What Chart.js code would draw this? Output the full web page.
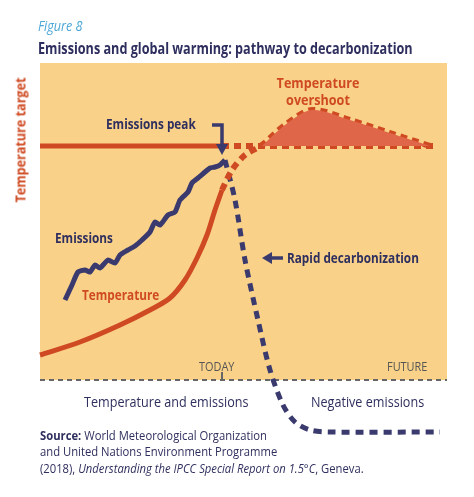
<!DOCTYPE html>
<html><head><meta charset="utf-8">
<script src="https://cdn.jsdelivr.net/npm/chart.js@4"></script>
<style>
body{margin:0;background:#fff;width:474px;height:497px;position:relative;overflow:hidden;font-family:'Open Sans',sans-serif;}
#c{position:absolute;left:0;top:0;}
.t{position:absolute;white-space:nowrap;font-weight:bold;font-size:14px;line-height:1;transform-origin:left top;transform:scaleX(0.84);}
.n{color:#2f2f5f}.o{color:#cf4a22}.g{color:#555}
</style></head><body>
<canvas id="c" width="474" height="497"></canvas>
<div class="t" style="left:38px;top:18px;font-weight:normal;font-style:italic;color:#4da6d8;font-size:15px">Figure 8</div>
<div class="t n" style="left:38px;top:40px;font-size:16px;transform:scaleX(0.79)">Emissions and global warming: pathway to decarbonization</div>
<div class="t o" style="left:20px;top:140px;transform-origin:center;transform:translate(-50%,-50%) rotate(-90deg) scaleX(0.84);font-size:15px">Temperature target</div>
<div class="t o" style="left:318px;top:74px;transform-origin:center top;transform:translateX(-50%) scaleX(0.84);text-align:center;font-size:15px;line-height:1.1">Temperature<br>overshoot</div>
<div class="t n" style="left:106px;top:117px">Emissions peak</div>
<div class="t n" style="left:55px;top:231px">Emissions</div>
<div class="t o" style="left:82px;top:288px">Temperature</div>
<div class="t n" style="left:287px;top:251px">Rapid decarbonization</div>
<div class="t g" style="left:199px;top:360px;font-weight:normal;font-size:13px">TODAY</div>
<div class="t g" style="left:387px;top:360px;font-weight:normal;font-size:13px">FUTURE</div>
<div class="t n" style="left:84px;top:394px;font-weight:normal;font-size:15px">Temperature and emissions</div>
<div class="t n" style="left:311px;top:394px;font-weight:normal;font-size:15px">Negative emissions</div>
<div class="t n" style="left:40px;top:428px;font-weight:normal;font-size:12.5px;line-height:1.3;transform:scaleX(0.9)"><b>Source:</b> World Meteorological Organization<br>and United Nations Environment Programme<br>(2018), <i>Understanding the IPCC Special Report on 1.5°C</i>, Geneva.</div>
<script>
const emissionsSolid=[[65,300],[72,285],[78,272],[85,270],[90,272],[95,265],[100,268],[108,260],[115,263],[120,255],[128,250],[135,246],[142,240],[150,232],[155,222],[160,225],[168,215],[175,212],[180,200],[188,192],[192,183],[198,178],[205,172],[210,168],[215,167],[220,165],[225,160]];
const emissionsDashed=[[225,160],[235,200],[245,260],[258,320],[270,370],[283,405],[295,422],[310,430],[330,432],[440,432]];
const tempSolid=[[40,355],[80,342],[120,325],[150,310],[170,298],[185,280],[197,258],[207,235],[215,210],[222,190]];
const tempDashed=[[222,190],[232,170],[245,155],[262,145],[285,125],[312,110],[350,120],[390,133],[430,146]];
const overshoot=[[262,146],[285,125],[312,110],[350,120],[390,133],[430,146]];
const targetSolid=[[40,146],[222,146]];
const targetDashed=[[222,146],[433,146]];
const P=a=>a.map(p=>({x:p[0],y:p[1]}));
const NAVY='#3a3a6e',RED='#cf4a22';
const bg={id:'bg',beforeDatasetsDraw(ch){const c=ch.ctx,x=ch.scales.x,y=ch.scales.y;
 c.save();c.fillStyle='#f9d188';c.fillRect(x.getPixelForValue(40),y.getPixelForValue(63),x.getPixelForValue(447)-x.getPixelForValue(40),y.getPixelForValue(380)-y.getPixelForValue(63));
 c.strokeStyle='#666';c.lineWidth=2;c.setLineDash([5,4]);c.beginPath();c.moveTo(x.getPixelForValue(40),y.getPixelForValue(380));c.lineTo(x.getPixelForValue(447),y.getPixelForValue(380));c.stroke();
 c.setLineDash([]);c.beginPath();c.moveTo(x.getPixelForValue(222),y.getPixelForValue(372));c.lineTo(x.getPixelForValue(222),y.getPixelForValue(380));c.stroke();c.restore();},
 afterDatasetsDraw(ch){const c=ch.ctx,x=ch.scales.x,y=ch.scales.y,X=v=>x.getPixelForValue(v),Y=v=>y.getPixelForValue(v);
 c.save();c.strokeStyle=NAVY;c.fillStyle=NAVY;c.lineWidth=3.5;
 c.beginPath();c.moveTo(X(212),Y(125));c.lineTo(X(222),Y(125));c.lineTo(X(222),Y(146));c.stroke();
 c.beginPath();c.moveTo(X(216),Y(144));c.lineTo(X(228),Y(144));c.lineTo(X(222),Y(155));c.fill();
 c.beginPath();c.moveTo(X(283),Y(258));c.lineTo(X(270),Y(258));c.stroke();
 c.beginPath();c.moveTo(X(272),Y(252));c.lineTo(X(272),Y(264));c.lineTo(X(262),Y(258));c.fill();c.restore();}};
const ds=(d,col,dash,extra)=>Object.assign({data:P(d),borderColor:col,borderWidth:5,borderDash:dash,pointRadius:0,tension:0.3,fill:false},extra||{});
new Chart(document.getElementById('c'),{type:'line',plugins:[bg],
data:{datasets:[
 ds(overshoot,'rgba(0,0,0,0)',[],{backgroundColor:'#e0664a',fill:{value:146},borderWidth:0}),
 ds(targetSolid,RED,[],{tension:0}),
 ds(targetDashed,RED,[7,5],{tension:0,borderWidth:6}),
 ds(tempSolid,RED,[]),
 ds(tempDashed,RED,[7,5],{borderWidth:6}),
 ds(emissionsSolid,NAVY,[],{tension:0.2}),
 ds(emissionsDashed,NAVY,[8,6])
]},
options:{responsive:false,animation:false,layout:{padding:0},plugins:{legend:{display:false},tooltip:{enabled:false}},
 scales:{x:{type:'linear',min:0,max:474,display:false},y:{type:'linear',min:0,max:497,reverse:true,display:false}}}});
</script></body></html>
